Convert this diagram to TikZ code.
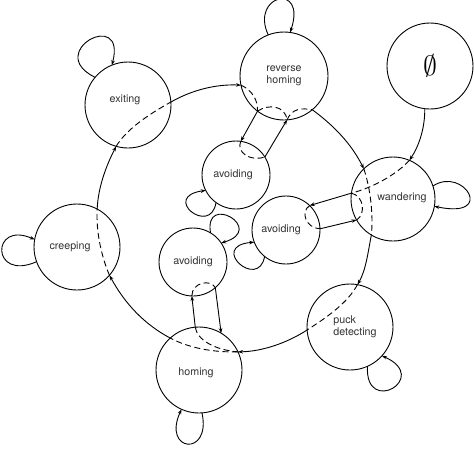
\documentclass[tikz,border=0pt]{standalone}
\usepackage{fontspec}
\usepackage{graphicx}
\setmainfont{TeX Gyre Heros}
\usetikzlibrary{arrows.meta}

\begin{document}
\begin{tikzpicture}[
    x=1pt, y=-1pt,
    state/.style={circle, draw, line width=0.9pt, inner sep=0pt, outer sep=0pt, minimum size=#1},
    lbl/.style={font=\fontsize{10.7}{12}\selectfont, text=black!80, align=center},
    flow/.style={-{Stealth[length=5pt,width=3.6pt]}, line width=0.9pt},
    inside/.style={line width=0.9pt, dash pattern=on 6pt off 3.5pt}
  ]
    \useasboundingbox (0,0) rectangle (474,448);
    % states
    \node[state=86, label={[lbl, xshift=-3pt, yshift=5pt]center:exiting}] (ex) at (128,105) {};
    \node[state=88, label={[lbl]center:reverse\\homing}] (rh) at (284,76) {};
    \node[state=86] (es) at (430,66) {\fontsize{24.88}{25}\selectfont\scalebox{1.12}{$\emptyset$}};
    \node[state=68, label={[lbl, xshift=-3pt]center:avoiding}] (av1) at (236,175) {};
    \node[state=84, label={[lbl, xshift=9pt, yshift=1pt]center:wandering}] (wa) at (393,199) {};
    \node[state=68, label={[lbl, xshift=-5pt]center:avoiding}] (av2) at (286,230) {};
    \node[state=68, label={[lbl]center:avoiding}] (av3) at (193,262) {};
    \node[state=86, label={[lbl, xshift=-7pt]center:creeping}] (cr) at (77,247) {};
    \node[state=86, label={[lbl, xshift=-3pt, yshift=-3pt]center:homing}] (ho) at (199,370) {};
    \node[state=86, label={[lbl, align=left, xshift=5pt]center:puck\\detecting}] (pd) at (350,327) {};

    % outer ring
    \draw[flow] (cr.62) .. controls (98,189) and (105,168) .. (ex.254);
    \draw[flow] (ex.4) .. controls (192,90) and (216,84) .. (rh.192);
    \draw[flow] (rh.-50) .. controls (333,125) and (351,143) .. (wa.134);
    \draw[flow] (wa.239) .. controls (368,252) and (366,270) .. (pd.80);
    \draw[flow] (pd.184) .. controls (287,343) and (262,351.5) .. (ho.25);
    \draw[flow] (ho.132) .. controls (144.6,324.5) and (124.8,303.7) .. (cr.-41);
    \draw[inside] (ex.254) .. controls (127,128.5) and (149.5,114) .. (ex.4);
    \draw[inside] (cr.-41) .. controls (102,258) and (95.8,232.4) .. (cr.62);
    \draw[inside] (pd.80) .. controls (347.5,303.3) and (325.5,318.2) .. (pd.184);
    \draw[inside] (wa.134) .. controls (370.4,188.4) and (373.4,214.3) .. (wa.239);
    \draw[inside] (ho.25) .. controls (215.3,352.5) and (190,348.6) .. (ho.132);

    % reverse homing <-> avoiding
    \draw[inside] (rh.192) .. controls (252,90) and (258,100) .. (rh.233);
    \draw[inside] (rh.233) .. controls (268,104) and (285,105) .. (rh.274);
    \draw[inside] (rh.274) .. controls (292,108) and (302,108) .. (rh.-50);
    \draw[flow] (rh.233) -- (av1.82);
    \draw[flow] (av1.32) -- (rh.274);
    \draw[inside] (av1.82) .. controls (236,152) and (250,162) .. (av1.32);

    % wandering <-> avoiding
    \draw[flow] (es.263) .. controls (425,128) and (419,146) .. (wa.67);
    \draw[inside] (wa.67) .. controls (398,173) and (375,187) .. (wa.172);
    \draw[flow] (wa.172) -- (av2.46);
    \draw[flow] (av2.2) -- (wa.210);
    \draw[inside] (av2.46) .. controls (300,212) and (306,228) .. (av2.2);
    \draw[inside] (wa.172) .. controls (364,196) and (366,214) .. (wa.210);

    % homing <-> avoiding
    \draw[flow] (ho.95) -- (av3.268);
    \draw[flow] (av3.-49) -- (ho.59);
    \draw[inside] (av3.268) .. controls (192,282) and (211,279) .. (av3.-49);
    \draw[inside] (ho.95) .. controls (197,340) and (215,350) .. (ho.25);

    % self loops
    \draw[flow] (ex.140) .. controls (43.2,51.6) and (127,7.5) .. (ex.112);
    \draw[flow] (rh.111) .. controls (249.6,-5.2) and (307.2,-18.7) .. (rh.82);
    \draw[flow] (wa.18) .. controls (463.3,165.8) and (496.7,219.4) .. (wa.-10);
    \draw[flow] (pd.-66) .. controls (364.6,416.6) and (431.5,377.9) .. (pd.-42);
    \draw[flow] (ho.-86) .. controls (211.6,457.4) and (161.7,452.1) .. (ho.-114);
    \draw[flow] (cr.200) .. controls (-9.2,281.8) and (-9,220.3) .. (cr.170);
    \draw[flow] (av1.234) .. controls (210.6,237) and (160.2,196.6) .. (av1.207);
    \draw[flow] (av2.231) .. controls (258.4,291) and (208,246) .. (av2.201);
    \draw[flow] (av3.59) .. controls (203.6,191.8) and (267.2,229.3) .. (av3.34);
\end{tikzpicture}
\end{document}
